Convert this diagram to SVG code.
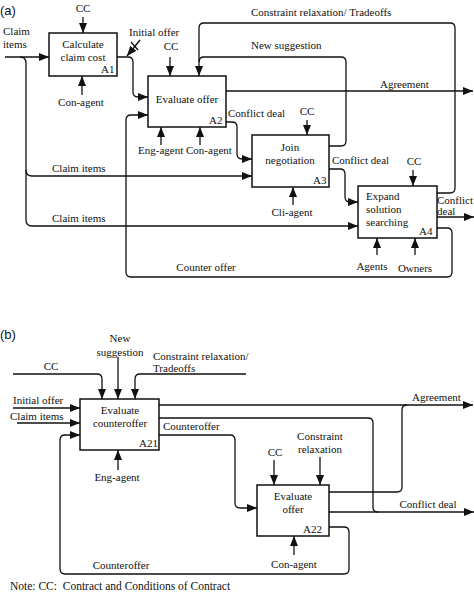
<svg xmlns="http://www.w3.org/2000/svg" width="474" height="593" viewBox="0 0 474 593">
<style>
text{font-family:"Liberation Serif","Times New Roman","DejaVu Serif",serif;font-size:11px;fill:#111}
.m{text-anchor:middle}
.lab{font-family:"Liberation Sans",Arial,sans-serif;font-size:13px}
.box{fill:#fff;stroke:#111;stroke-width:1.5}
.c{fill:none;stroke:#111;stroke-width:1.3}
.a{marker-end:url(#ah)}
</style>
<defs>
<marker id="ah" viewBox="0 0 10 8" refX="10" refY="4" markerWidth="10" markerHeight="8" markerUnits="userSpaceOnUse" orient="auto">
<path d="M0,0 L10,4 L0,8 Z" fill="#111"/>
</marker>
</defs>
<rect width="474" height="593" fill="#fff"/>
<text class="lab" x="0" y="15">(a)</text>
<text class="lab" x="0" y="339">(b)</text>

<g id="connectors">
<!-- part a -->
<path class="c a" d="M83,17 V33"/>
<path class="c a" d="M82,95 V76"/>
<path class="c a" d="M5,57 H49"/>
<path class="c a" d="M20,57 Q26,57 26,63 V220 Q26,226 32,226 H358"/>
<path class="c a" d="M26,170 Q26,176 32,176 H252"/>
<path class="c a" d="M117,57 H128 Q133,57 133,62 V92 Q133,97 138,97 H148"/>
<path class="c a" d="M140,40 L127,56"/>
<path class="c" d="M131,42 L138,50"/>
<path class="c a" d="M170,57 V76"/>
<path class="c a" d="M437,193 H450 Q455,193 455,188 V28 Q455,23 450,23 H204 Q199,23 199,28 V76"/>
<path class="c" d="M329,146 H341 Q346,146 346,141 V62 Q346,57 341,57 H204 Q199,57 199,62"/>
<path class="c a" d="M226,91 H473"/>
<path class="c a" d="M226,122 H232 Q237,122 237,127 V154 Q237,159 242,159 H252"/>
<path class="c a" d="M161,145 V127"/>
<path class="c a" d="M200,145 V127"/>
<path class="c a" d="M307,120 V135"/>
<path class="c a" d="M293,205 V187"/>
<path class="c a" d="M329,169 H340 Q345,169 345,174 V197 Q345,202 350,202 H358"/>
<path class="c a" d="M413,170 V186"/>
<path class="c a" d="M377,255 V238"/>
<path class="c a" d="M415,255 V238"/>
<path class="c a" d="M437,217 H474"/>
<path class="c a" d="M437,228 H447 Q452,228 452,233 V272 Q452,277 447,277 H131 Q126,277 126,272 V120 Q126,115 131,115 H148"/>
<!-- part b -->
<path class="c a" d="M13,374 H97 Q102,374 102,379 V399"/>
<path class="c a" d="M118,357 V399"/>
<path class="c a" d="M246,374 H140 Q135,374 135,379 V399"/>
<path class="c a" d="M13,408 H80"/>
<path class="c a" d="M17,423 H80"/>
<path class="c a" d="M159,405 H473"/>
<path class="c" d="M159,418 H368 Q373,418 373,423 V507 Q373,512 378,512"/>
<path class="c a" d="M159,435 H230 Q235,435 235,440 V503 Q235,508 240,508 H257"/>
<path class="c a" d="M274,460 V485"/>
<path class="c a" d="M320,457 V485"/>
<path class="c" d="M329,492 H397 Q402,492 402,487 V410 Q402,405 407,405"/>
<path class="c a" d="M329,512 H474"/>
<path class="c a" d="M329,527 H344 Q349,527 349,532 V569 Q349,574 344,574 H65 Q60,574 60,569 V440 Q60,435 65,435 H80"/>
<path class="c a" d="M118,470 V450"/>
<path class="c a" d="M294,555 V536"/>
</g>

<g id="A1">
<rect class="box" x="49" y="33" width="68" height="43"/>
<text class="m" x="83" y="48">Calculate</text>
<text class="m" x="83" y="61">claim cost</text>
<text x="101" y="73">A1</text>
</g>
<g id="A2">
<rect class="box" x="148" y="76" width="78" height="51"/>
<text class="m" x="187" y="103">Evaluate offer</text>
<text x="209" y="124">A2</text>
</g>
<g id="A3">
<rect class="box" x="252" y="135" width="77" height="52"/>
<text class="m" x="290" y="151">Join</text>
<text class="m" x="290" y="164">negotiation</text>
<text x="313" y="184">A3</text>
</g>
<g id="A4">
<rect class="box" x="358" y="186" width="79" height="52"/>
<text x="366" y="200">Expand</text>
<text x="366" y="213">solution</text>
<text x="366" y="226">searching</text>
<text x="419" y="235">A4</text>
</g>
<g id="A21">
<rect class="box" x="80" y="399" width="79" height="51"/>
<text class="m" x="120" y="414">Evaluate</text>
<text class="m" x="120" y="427">counteroffer</text>
<text x="139" y="447">A21</text>
</g>
<g id="A22">
<rect class="box" x="257" y="485" width="72" height="51"/>
<text class="m" x="293" y="500">Evaluate</text>
<text class="m" x="293" y="513">offer</text>
<text x="303" y="533">A22</text>
</g>

<g id="labels">
<text class="m" x="83" y="12">CC</text>
<text class="m" x="81" y="106">Con-agent</text>
<text x="3" y="35">Claim</text>
<text x="3" y="48">items</text>
<text x="129" y="36">Initial offer</text>
<text class="m" x="171" y="50">CC</text>
<text x="251" y="16">Constraint relaxation/ Tradeoffs</text>
<text x="251" y="49">New suggestion</text>
<text x="380" y="88">Agreement</text>
<text x="228" y="117">Conflict deal</text>
<text class="m" x="307" y="115">CC</text>
<text x="138" y="154">Eng-agent</text>
<text x="186" y="154">Con-agent</text>
<text x="52" y="172">Claim items</text>
<text x="332" y="164">Conflict deal</text>
<text class="m" x="292" y="216">Cli-agent</text>
<text class="m" x="414" y="165">CC</text>
<text x="52" y="222">Claim items</text>
<text x="437" y="204">Conflict</text>
<text x="437" y="215">deal</text>
<text class="m" x="372" y="270">Agents</text>
<text class="m" x="415" y="272">Owners</text>
<text class="m" x="206" y="271">Counter offer</text>

<text class="m" x="120" y="342">New</text>
<text class="m" x="120" y="356">suggestion</text>
<text class="m" x="51" y="370">CC</text>
<text x="153" y="360">Constraint relaxation/</text>
<text x="153" y="372">Tradeoffs</text>
<text x="13" y="404">Initial offer</text>
<text x="10" y="420">Claim items</text>
<text x="412" y="401">Agreement</text>
<text x="163" y="430">Counteroffer</text>
<text class="m" x="320" y="440">Constraint</text>
<text class="m" x="320" y="453">relaxation</text>
<text class="m" x="275" y="456">CC</text>
<text class="m" x="117" y="481">Eng-agent</text>
<text class="m" x="428" y="508">Conflict deal</text>
<text class="m" x="121" y="569">Counteroffer</text>
<text class="m" x="294" y="568">Con-agent</text>
<text x="10" y="590" xml:space="preserve" style="font-size:11.5px">Note: CC:  Contract and Conditions of Contract</text>
</g>
</svg>
